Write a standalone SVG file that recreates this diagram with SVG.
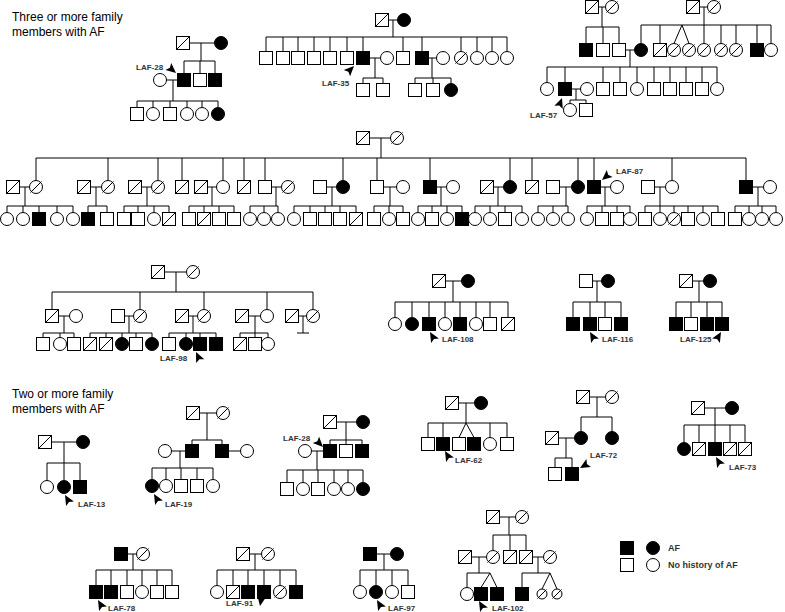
<svg xmlns="http://www.w3.org/2000/svg" width="785" height="612" viewBox="0 0 785 612">
<style>
.ln{fill:none;stroke:#000;stroke-width:1}
.t{font-family:"Liberation Sans",Arial,sans-serif;font-size:12px;fill:#000}
.l{font-family:"Liberation Sans",Arial,sans-serif;font-size:8px;font-weight:bold;fill:#333}
</style>
<defs>
<rect id="s" x="-6.5" y="-6.5" width="13" height="13" fill="#fff" stroke="#000"/>
<rect id="fs" x="-6.5" y="-6.5" width="13" height="13" fill="#000" stroke="#000"/>
<g id="ds"><rect x="-6.5" y="-6.5" width="13" height="13" fill="#fff" stroke="#000"/><line x1="-6.5" y1="6.5" x2="6.5" y2="-6.5" stroke="#000"/></g>
<circle id="c" r="6.5" fill="#fff" stroke="#000"/>
<circle id="fc" r="6.5" fill="#000" stroke="#000"/>
<g id="dc"><circle r="6.5" fill="#fff" stroke="#000"/><line x1="-5.5" y1="5.5" x2="5.5" y2="-5.5" stroke="#000"/></g>
<g id="dcs"><circle r="5" fill="#fff" stroke="#000"/><line x1="-4.5" y1="4.5" x2="4.5" y2="-4.5" stroke="#000"/></g>
<polygon id="arr" points="0,0 -10,-4.5 -8,0 -10,4.5" fill="#000"/>
</defs>
<rect width="785" height="612" fill="#fff"/>
<text class="t" x="12" y="21">Three or more family</text>
<text class="t" x="12" y="36">members with AF</text>
<text class="t" x="12" y="398">Two or more family</text>
<text class="t" x="12" y="413">members with AF</text>

<g id="connectors" class="ln">
<path d="M190 43H214M201 43V61M184 61H215M184 61V73.5M200 61V73.5M215 61V73.5M167 80H177M173 80V101M137 101H218M137 101V107.5M153 101V107.5M170 101V107.5M187 101V107.5M202 101V107.5M218 101V107.5"/>
<path d="M389 20H398M393 20V37M266 37H507M266 37V51.5M283 37V51.5M298 37V51.5M314 37V51.5M330 37V51.5M347 37V51.5M363 37V51.5M403 37V51.5M422 37V51.5M461 37V51.5M477 37V51.5M492 37V51.5M507 37V51.5M369.5 58H380.5M375 58V78M363 78H383M363 78V83.5M383 78V83.5M428.5 58H436.5M432 58V78M415 78H451M415 78V83.5M433 78V83.5M451 78V83.5"/>
<path d="M598.5 7H605.5M602 7V27M586 27H619M586 27V43.5M603 27V43.5M619 27V43.5M700 7H707M704 7V25M641 25H771M641 25V43.5M660 25V43.5M704 25V43.5M721 25V43.5M736 25V43.5M757 25V43.5M771 25V43.5M682 25L674 43.5M682 25L689 43.5M625.5 50H634.5M630 50V67M547 67H717M547 67V82.5M565 67V82.5M603 67V82.5M620 67V82.5M637 67V82.5M654 67V82.5M670 67V82.5M686 67V82.5M702 67V82.5M717 67V82.5M571.5 89H580.5M576 89V100M570 100H586M570 100V103.5M586 100V103.5"/>
<path d="M369.5 138H390.5M381 138V158M36 158H746M36 158V180.5M108 158V180.5M158 158V180.5M182 158V180.5M223 158V180.5M244 158V180.5M265 158V180.5M343 158V180.5M377 158V180.5M430 158V180.5M510 158V180.5M532 158V180.5M578 158V180.5M594 158V180.5M672 158V180.5M746 158V180.5"/>
<path d="M19.5 187H29.5M25 187V206M7 206H73M7 206V212.5M23 206V212.5M39 206V212.5M57 206V212.5M73 206V212.5
M90.5 187H101.5M96 187V206M88 206H107M88 206V212.5M107 206V212.5
M141.5 187H151.5M147 187V206M124 206H169M124 206V212.5M138 206V212.5M154 206V212.5M169 206V212.5
M207.5 187H216.5M212 187V206M189 206H234M189 206V212.5M204 206V212.5M219 206V212.5M234 206V212.5
M271.5 187H281.5M276 187V206M250 206H278M250 206V212.5M264 206V212.5M278 206V212.5
M326.5 187H336.5M332 187V206M294 206H356M294 206V212.5M310 206V212.5M325 206V212.5M340 206V212.5M356 206V212.5
M383.5 187H396.5M390 187V206M374 206H403M374 206V212.5M389 206V212.5M403 206V212.5
M436.5 187H446.5M441 187V206M418 206H462M418 206V212.5M432 206V212.5M447 206V212.5M462 206V212.5
M493.5 187H503.5M498 187V206M475 206H522M475 206V212.5M490 206V212.5M505 206V212.5M522 206V212.5
M559.5 187H571.5M566 187V206M538 206H568M538 206V212.5M553 206V212.5M568 206V212.5
M600.5 187H610.5M605 187V206M587 206H630M587 206V212.5M602 206V212.5M617 206V212.5M630 206V212.5
M654.5 187H665.5M660 187V206M645 206H718M645 206V212.5M660 206V212.5M674 206V212.5M688 206V212.5M703 206V212.5M718 206V212.5
M752.5 187H763.5M758 187V206M735 206H776M735 206V212.5M749 206V212.5M762 206V212.5M776 206V212.5"/>
<path d="M164.5 272H186.5M176 272V292M52 292H313M52 292V309.5M140 292V309.5M204 292V309.5M267 292V309.5M313 292V309.5
M58.5 316H69.5M64 316V333M43 333H74M43 333V337.5M60 333V337.5M74 333V337.5
M124.5 316H133.5M129 316V333M90 333H152M90 333V337.5M106 333V337.5M122 333V337.5M136 333V337.5M152 333V337.5
M188.5 316H197.5M193 316V333M169 333H216M169 333V337.5M186 333V337.5M200 333V337.5M216 333V337.5
M248.5 316H260.5M255 316V333M240 333H268M240 333V337.5M255 333V337.5M268 333V337.5
M298.5 316H306.5M303 316V333M297 333H309"/>
<path d="M445.5 281H461.5M453 281V302M395 302H508M395 302V317.5M412 302V317.5M429 302V317.5M445 302V317.5M460 302V317.5M476 302V317.5M490 302V317.5M508 302V317.5"/>
<path d="M592.5 281H601.5M597 281V302M573 302H621M573 302V317.5M590 302V317.5M605 302V317.5M621 302V317.5"/>
<path d="M692.5 281H703.5M699 281V302M676 302H722M676 302V317.5M691 302V317.5M707 302V317.5M722 302V317.5"/>
<path d="M51.5 442H76.5M64 442V463M47 463H80M47 463V480.5M64 463V480.5M80 463V480.5"/>
<path d="M199.5 413H216.5M207 413V440M192 440H222M192 440V444.5M222 440V444.5M171.5 451H185.5M180 451V468M152 468H213M152 468V479.5M166 468V479.5M181 468V479.5M197 468V479.5M213 468V479.5M228.5 451H240.5"/>
<path d="M336.5 422H356.5M346 422V440M330 440H362M330 440V444.5M346 440V444.5M362 440V444.5M311.5 451H323.5M317 451V470M287 470H363M287 470V482.5M303 470V482.5M318 470V482.5M334 470V482.5M348 470V482.5M363 470V482.5"/>
<path d="M458.5 403H474.5M466 403V423M428 423H507M428 423V437.5M443 423V437.5M490 423V437.5M507 423V437.5M466 423L459 437.5M466 423L474 437.5"/>
<path d="M589.5 397H605.5M597 397V417M581 417H612M581 417V431.5M612 417V431.5M558.5 438H574.5M566 438V458M555 458H572M555 458V467.5M572 458V467.5"/>
<path d="M704.5 408H725.5M715 408V425M684 425H745M684 425V442.5M699 425V442.5M715 425V442.5M730 425V442.5M745 425V442.5"/>
<path d="M127.5 554H136.5M133 554V570M96 570H172M96 570V585.5M111 570V585.5M127 570V585.5M142 570V585.5M157 570V585.5M172 570V585.5"/>
<path d="M249.5 554H261.5M255 554V570M217 570H296M217 570V585.5M233 570V585.5M248 570V585.5M264 570V585.5M280 570V585.5M296 570V585.5"/>
<path d="M376.5 554H390.5M384 554V570M360 570H408M360 570V585.5M376 570V585.5M392 570V585.5M408 570V585.5"/>
<path d="M499.5 517H515.5M509 517V535M493 535H526M493 535V550.5M510 535V550.5M526 535V550.5M471.5 557H486.5M479 557V573M467 573H490M467 573V587.5M490 573L481 587.5M490 573L497 587.5M532.5 557H543.5M538 557V573M522 573H550M522 573V587.5M550 573L542 589M550 573L557 589"/>
</g>

<g id="ped-laf28a">
<use href="#ds" x="183" y="43"/><use href="#fc" x="221" y="43"/>
<use href="#c" x="160" y="80"/><use href="#fs" x="184" y="80"/><use href="#s" x="200" y="80"/><use href="#fs" x="215" y="80"/>
<use href="#s" x="137" y="114"/><use href="#c" x="153" y="114"/><use href="#s" x="170" y="114"/><use href="#c" x="187" y="114"/><use href="#c" x="202" y="114"/><use href="#fc" x="218" y="114"/>
<use href="#arr" transform="translate(176,73) rotate(40)"/><text class="l" x="136" y="70">LAF-28</text>
</g>
<g id="ped-laf35">
<use href="#ds" x="382" y="20"/><use href="#fc" x="404" y="20"/>
<use href="#s" x="266" y="58"/><use href="#s" x="283" y="58"/><use href="#s" x="298" y="58"/><use href="#s" x="314" y="58"/><use href="#s" x="330" y="58"/><use href="#s" x="347" y="58"/><use href="#fs" x="363" y="58"/><use href="#c" x="387" y="58"/><use href="#s" x="403" y="58"/><use href="#fs" x="422" y="58"/><use href="#c" x="443" y="58"/><use href="#dc" x="461" y="58"/><use href="#c" x="477" y="58"/><use href="#c" x="492" y="58"/><use href="#c" x="507" y="58"/>
<use href="#s" x="363" y="90"/><use href="#s" x="383" y="90"/><use href="#s" x="415" y="90"/><use href="#s" x="433" y="90"/><use href="#fc" x="451" y="90"/>
<use href="#arr" transform="translate(354,66) rotate(-45)"/><text class="l" x="322" y="86">LAF-35</text>
</g>
<g id="ped-laf57">
<use href="#ds" x="592" y="7"/><use href="#dc" x="612" y="7"/><use href="#ds" x="693" y="7"/><use href="#dc" x="714" y="7"/>
<use href="#fs" x="586" y="50"/><use href="#s" x="603" y="50"/><use href="#s" x="619" y="50"/><use href="#fc" x="641" y="50"/><use href="#ds" x="660" y="50"/><use href="#dc" x="674" y="50"/><use href="#dc" x="689" y="50"/><use href="#dc" x="704" y="50"/><use href="#dc" x="721" y="50"/><use href="#dc" x="736" y="50"/><use href="#fs" x="757" y="50"/><use href="#c" x="771" y="50"/>
<use href="#c" x="547" y="89"/><use href="#fs" x="565" y="89"/><use href="#c" x="587" y="89"/><use href="#s" x="603" y="89"/><use href="#s" x="620" y="89"/><use href="#c" x="637" y="89"/><use href="#s" x="654" y="89"/><use href="#s" x="670" y="89"/><use href="#s" x="686" y="89"/><use href="#s" x="702" y="89"/><use href="#c" x="717" y="89"/>
<use href="#c" x="570" y="110"/><use href="#s" x="586" y="110"/>
<use href="#arr" transform="translate(562,98) rotate(-70)"/><text class="l" x="530" y="118">LAF-57</text>
</g>
<g id="ped-laf87">
<use href="#ds" x="363" y="138"/><use href="#dc" x="397" y="138"/>
<use href="#ds" x="13" y="187"/><use href="#dc" x="36" y="187"/><use href="#ds" x="84" y="187"/><use href="#dc" x="108" y="187"/><use href="#ds" x="135" y="187"/><use href="#dc" x="158" y="187"/><use href="#ds" x="182" y="187"/><use href="#ds" x="201" y="187"/><use href="#c" x="223" y="187"/><use href="#ds" x="244" y="187"/><use href="#s" x="265" y="187"/><use href="#dc" x="288" y="187"/><use href="#s" x="320" y="187"/><use href="#fc" x="343" y="187"/><use href="#s" x="377" y="187"/><use href="#c" x="403" y="187"/><use href="#fs" x="430" y="187"/><use href="#c" x="453" y="187"/><use href="#ds" x="487" y="187"/><use href="#fc" x="510" y="187"/><use href="#ds" x="532" y="187"/><use href="#s" x="553" y="187"/><use href="#fc" x="578" y="187"/><use href="#fs" x="594" y="187"/><use href="#c" x="617" y="187"/><use href="#s" x="648" y="187"/><use href="#c" x="672" y="187"/><use href="#fs" x="746" y="187"/><use href="#c" x="770" y="187"/>
<use href="#c" x="7" y="219"/><use href="#c" x="23" y="219"/><use href="#fs" x="39" y="219"/><use href="#c" x="57" y="219"/><use href="#c" x="73" y="219"/>
<use href="#fs" x="88" y="219"/><use href="#s" x="107" y="219"/>
<use href="#s" x="124" y="219"/><use href="#s" x="138" y="219"/><use href="#c" x="154" y="219"/><use href="#ds" x="169" y="219"/>
<use href="#s" x="189" y="219"/><use href="#ds" x="204" y="219"/><use href="#s" x="219" y="219"/><use href="#s" x="234" y="219"/>
<use href="#c" x="250" y="219"/><use href="#c" x="264" y="219"/><use href="#c" x="278" y="219"/>
<use href="#c" x="294" y="219"/><use href="#s" x="310" y="219"/><use href="#s" x="325" y="219"/><use href="#s" x="340" y="219"/><use href="#ds" x="356" y="219"/>
<use href="#s" x="374" y="219"/><use href="#c" x="389" y="219"/><use href="#s" x="403" y="219"/>
<use href="#c" x="418" y="219"/><use href="#s" x="432" y="219"/><use href="#c" x="447" y="219"/><use href="#fs" x="462" y="219"/>
<use href="#c" x="475" y="219"/><use href="#c" x="490" y="219"/><use href="#s" x="505" y="219"/><use href="#c" x="522" y="219"/>
<use href="#c" x="538" y="219"/><use href="#c" x="553" y="219"/><use href="#c" x="568" y="219"/>
<use href="#c" x="587" y="219"/><use href="#s" x="602" y="219"/><use href="#s" x="617" y="219"/><use href="#c" x="630" y="219"/>
<use href="#s" x="645" y="219"/><use href="#c" x="660" y="219"/><use href="#dc" x="674" y="219"/><use href="#s" x="688" y="219"/><use href="#c" x="703" y="219"/><use href="#s" x="718" y="219"/>
<use href="#s" x="735" y="219"/><use href="#c" x="749" y="219"/><use href="#c" x="762" y="219"/><use href="#c" x="776" y="219"/>
<use href="#arr" transform="translate(602,180) rotate(140)"/><text class="l" x="616" y="174">LAF-87</text>
</g>
<g id="ped-laf98">
<use href="#ds" x="158" y="272"/><use href="#dc" x="193" y="272"/>
<use href="#ds" x="52" y="316"/><use href="#c" x="76" y="316"/><use href="#s" x="118" y="316"/><use href="#dc" x="140" y="316"/><use href="#ds" x="182" y="316"/><use href="#dc" x="204" y="316"/><use href="#ds" x="242" y="316"/><use href="#c" x="267" y="316"/><use href="#ds" x="292" y="316"/><use href="#dc" x="313" y="316"/>
<use href="#s" x="43" y="344"/><use href="#c" x="60" y="344"/><use href="#s" x="74" y="344"/>
<use href="#ds" x="90" y="344"/><use href="#ds" x="106" y="344"/><use href="#fc" x="122" y="344"/><use href="#s" x="136" y="344"/><use href="#fc" x="152" y="344"/>
<use href="#s" x="169" y="344"/><use href="#fc" x="186" y="344"/><use href="#fs" x="200" y="344"/><use href="#fs" x="216" y="344"/>
<use href="#ds" x="240" y="344"/><use href="#s" x="255" y="344"/><use href="#c" x="268" y="344"/>
<use href="#arr" transform="translate(196,352) rotate(-115)"/><text class="l" x="160" y="361">LAF-98</text>
</g>
<g id="ped-laf108">
<use href="#ds" x="439" y="281"/><use href="#fc" x="468" y="281"/>
<use href="#c" x="395" y="324"/><use href="#fc" x="412" y="324"/><use href="#fs" x="429" y="324"/><use href="#c" x="445" y="324"/><use href="#fs" x="460" y="324"/><use href="#c" x="476" y="324"/><use href="#s" x="490" y="324"/><use href="#ds" x="508" y="324"/>
<use href="#arr" transform="translate(430,332) rotate(-120)"/><text class="l" x="442" y="342">LAF-108</text>
</g>
<g id="ped-laf116">
<use href="#s" x="586" y="281"/><use href="#fc" x="608" y="281"/>
<use href="#fs" x="573" y="324"/><use href="#fs" x="590" y="324"/><use href="#s" x="605" y="324"/><use href="#fs" x="621" y="324"/>
<use href="#arr" transform="translate(590,332) rotate(-120)"/><text class="l" x="602" y="342">LAF-116</text>
</g>
<g id="ped-laf125">
<use href="#ds" x="686" y="281"/><use href="#fc" x="710" y="281"/>
<use href="#fs" x="676" y="324"/><use href="#s" x="691" y="324"/><use href="#fs" x="707" y="324"/><use href="#fs" x="722" y="324"/>
<use href="#arr" transform="translate(721,332) rotate(-60)"/><text class="l" x="680" y="342">LAF-125</text>
</g>
<g id="ped-laf13">
<use href="#ds" x="45" y="442"/><use href="#fc" x="83" y="442"/>
<use href="#c" x="47" y="487"/><use href="#fc" x="64" y="487"/><use href="#fs" x="80" y="487"/>
<use href="#arr" transform="translate(65,495) rotate(-120)"/><text class="l" x="78" y="507">LAF-13</text>
</g>
<g id="ped-laf19">
<use href="#ds" x="193" y="413"/><use href="#dc" x="223" y="413"/>
<use href="#c" x="165" y="451"/><use href="#fs" x="192" y="451"/><use href="#fs" x="222" y="451"/><use href="#c" x="247" y="451"/>
<use href="#fc" x="152" y="486"/><use href="#c" x="166" y="486"/><use href="#s" x="181" y="486"/><use href="#s" x="197" y="486"/><use href="#c" x="213" y="486"/>
<use href="#arr" transform="translate(154,494) rotate(-120)"/><text class="l" x="165" y="507">LAF-19</text>
</g>
<g id="ped-laf28b">
<use href="#ds" x="330" y="422"/><use href="#fc" x="363" y="422"/>
<use href="#c" x="305" y="451"/><use href="#fs" x="330" y="451"/><use href="#s" x="346" y="451"/><use href="#fs" x="362" y="451"/>
<use href="#s" x="287" y="489"/><use href="#c" x="303" y="489"/><use href="#s" x="318" y="489"/><use href="#c" x="334" y="489"/><use href="#c" x="348" y="489"/><use href="#fc" x="363" y="489"/>
<use href="#arr" transform="translate(323,447) rotate(45)"/><text class="l" x="283" y="441">LAF-28</text>
</g>
<g id="ped-laf62">
<use href="#ds" x="452" y="403"/><use href="#fc" x="481" y="403"/>
<use href="#s" x="428" y="444"/><use href="#fs" x="443" y="444"/><use href="#s" x="459" y="444"/><use href="#fs" x="474" y="444"/><use href="#c" x="490" y="444"/><use href="#s" x="507" y="444"/>
<use href="#arr" transform="translate(445,451) rotate(-120)"/><text class="l" x="455" y="463">LAF-62</text>
</g>
<g id="ped-laf72">
<use href="#ds" x="583" y="397"/><use href="#dc" x="612" y="397"/>
<use href="#ds" x="552" y="438"/><use href="#fc" x="581" y="438"/><use href="#fc" x="612" y="438"/>
<use href="#s" x="555" y="474"/><use href="#fs" x="572" y="474"/>
<use href="#arr" transform="translate(580,468) rotate(150)"/><text class="l" x="590" y="458">LAF-72</text>
</g>
<g id="ped-laf73">
<use href="#ds" x="698" y="408"/><use href="#fc" x="732" y="408"/>
<use href="#fc" x="684" y="449"/><use href="#ds" x="699" y="449"/><use href="#fs" x="715" y="449"/><use href="#ds" x="730" y="449"/><use href="#ds" x="745" y="449"/>
<use href="#arr" transform="translate(716,457) rotate(-120)"/><text class="l" x="729" y="470">LAF-73</text>
</g>
<g id="ped-laf78">
<use href="#fs" x="121" y="554"/><use href="#dc" x="143" y="554"/>
<use href="#fs" x="96" y="592"/><use href="#fs" x="111" y="592"/><use href="#s" x="127" y="592"/><use href="#c" x="142" y="592"/><use href="#s" x="157" y="592"/><use href="#s" x="172" y="592"/>
<use href="#arr" transform="translate(98,600) rotate(-120)"/><text class="l" x="108" y="611">LAF-78</text>
</g>
<g id="ped-laf91">
<use href="#ds" x="243" y="554"/><use href="#dc" x="268" y="554"/>
<use href="#c" x="217" y="592"/><use href="#ds" x="233" y="592"/><use href="#fs" x="248" y="592"/><use href="#fs" x="264" y="592"/><use href="#dc" x="280" y="592"/><use href="#fs" x="296" y="592"/>
<use href="#arr" transform="translate(260,606) rotate(100)"/><text class="l" x="226" y="606">LAF-91</text>
</g>
<g id="ped-laf97">
<use href="#fs" x="370" y="554"/><use href="#fc" x="397" y="554"/>
<use href="#c" x="360" y="592"/><use href="#fc" x="376" y="592"/><use href="#c" x="392" y="592"/><use href="#s" x="408" y="592"/>
<use href="#arr" transform="translate(377,600) rotate(-120)"/><text class="l" x="388" y="611">LAF-97</text>
</g>
<g id="ped-laf102">
<use href="#ds" x="493" y="517"/><use href="#dc" x="522" y="517"/>
<use href="#ds" x="465" y="557"/><use href="#dc" x="493" y="557"/><use href="#ds" x="510" y="557"/><use href="#ds" x="526" y="557"/><use href="#dc" x="550" y="557"/>
<use href="#c" x="467" y="594"/><use href="#fs" x="481" y="594"/><use href="#fs" x="497" y="594"/><use href="#fs" x="522" y="594"/><use href="#dcs" x="542" y="594"/><use href="#dcs" x="557" y="594"/>
<use href="#arr" transform="translate(479,601) rotate(-120)"/><text class="l" x="492" y="611">LAF-102</text>
</g>
<g id="legend">
<use href="#fs" x="627" y="548"/><use href="#fc" x="653" y="548"/>
<use href="#s" x="627" y="565"/><use href="#c" x="653" y="565"/>
<text class="l" x="668" y="551" style="font-size:9px">AF</text>
<text class="l" x="668" y="568" style="font-size:9px">No history of AF</text>
</g>
</svg>
